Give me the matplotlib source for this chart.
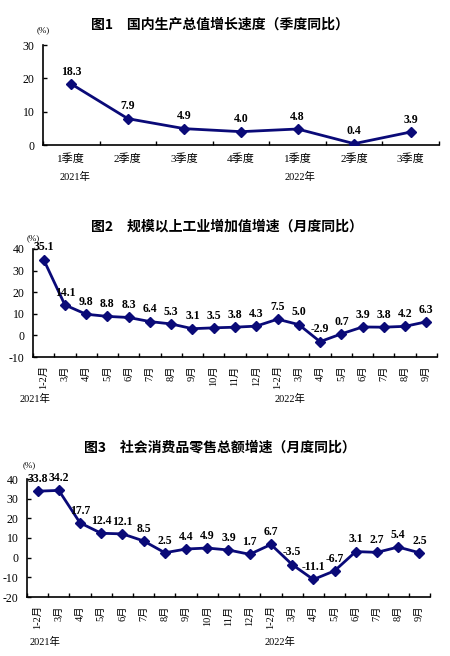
import matplotlib
matplotlib.use('Agg')
import matplotlib.pyplot as plt

# data
gdp_labels = ['1季度', '2季度', '3季度', '4季度', '1季度', '2季度', '3季度']
gdp_values = [18.3, 7.9, 4.9, 4.0, 4.8, 0.4, 3.9]

month_labels = ['1-2月', '3月', '4月', '5月', '6月', '7月', '8月', '9月', '10月',
                '11月', '12月', '1-2月', '3月', '4月', '5月', '6月', '7月', '8月', '9月']
ind_values = [35.1, 14.1, 9.8, 8.8, 8.3, 6.4, 5.3, 3.1, 3.5, 3.8, 4.3,
              7.5, 5.0, -2.9, 0.7, 3.9, 3.8, 4.2, 6.3]
retail_values = [33.8, 34.2, 17.7, 12.4, 12.1, 8.5, 2.5, 4.4, 4.9, 3.9, 1.7,
                 6.7, -3.5, -11.1, -6.7, 3.1, 2.7, 5.4, 2.5]

SERIF = ['Liberation Serif', 'Noto Sans CJK SC', 'DejaVu Sans']
SANS = ['Noto Sans CJK SC', 'DejaVu Sans']
NAVY = '#0a0a78'
W, H = 450, 656

fig = plt.figure(figsize=(4.5, 6.56), dpi=100)


def px_axes(left, right, top, bottom):
    return fig.add_axes([left / W, 1 - bottom / H, (right - left) / W, (bottom - top) / H])


def draw(ax, labels, values, ylim, yticks, rotate):
    n = len(values)
    x = list(range(n))
    ax.plot(x, values, color=NAVY, lw=2, marker='D', ms=5, zorder=3)
    for xi, v in zip(x, values):
        ax.annotate(f'{v:.1f}', (xi, v), xytext=(0, 4.5), textcoords='offset points',
                    ha='center', va='bottom', fontsize=8.5, fontweight='bold',
                    family=SERIF)
    ax.set_xlim(-0.5, n - 0.5)
    ax.set_ylim(*ylim)
    ax.set_yticks(yticks)
    ax.set_yticklabels([str(t) for t in yticks], family=SERIF, fontsize=8.5)
    ax.set_xticks(x)
    ax.set_xticks([i - 0.5 for i in range(n + 1)], minor=True)
    if rotate:
        ax.set_xticklabels(labels, rotation=90, family=SERIF, fontsize=7.5, va='top')
    else:
        ax.set_xticklabels(labels, family=SERIF, fontsize=8)
    ax.tick_params(axis='x', which='major', length=0, pad=6)
    ax.tick_params(axis='x', which='minor', direction='in', length=3, width=1)
    ax.tick_params(axis='y', direction='in', length=3, width=1, pad=6)
    for s in ['top', 'right']:
        ax.spines[s].set_visible(False)
    for s in ['left', 'bottom']:
        ax.spines[s].set_linewidth(1.2)


# figure 1
ax1 = px_axes(43, 439, 45, 145)
draw(ax1, gdp_labels, gdp_values, (0, 30), [0, 10, 20, 30], False)
fig.text(220 / W, 1 - 25 / H, '图1　国内生产总值增长速度（季度同比）', ha='center', va='center',
         fontsize=10, fontweight='bold', family=SANS)
fig.text(43 / W, 1 - 30 / H, '(%)', ha='center', va='center', fontsize=6.5, family=SERIF)
fig.text(75 / W, 1 - 177 / H, '2021年', ha='center', va='center', fontsize=7.5, family=SERIF)
fig.text(300 / W, 1 - 177 / H, '2022年', ha='center', va='center', fontsize=7.5, family=SERIF)

# figure 2
ax2 = px_axes(33, 437, 249, 357)
draw(ax2, month_labels, ind_values, (-10, 40), [-10, 0, 10, 20, 30, 40], True)
fig.text(227 / W, 1 - 227 / H, '图2　规模以上工业增加值增速（月度同比）', ha='center', va='center',
         fontsize=10, fontweight='bold', family=SANS)
fig.text(33 / W, 1 - 238 / H, '(%)', ha='center', va='center', fontsize=6.5, family=SERIF)
fig.text(35 / W, 1 - 399 / H, '2021年', ha='center', va='center', fontsize=7.5, family=SERIF)
fig.text(290 / W, 1 - 399 / H, '2022年', ha='center', va='center', fontsize=7.5, family=SERIF)

# figure 3
ax3 = px_axes(27, 430, 479, 597)
draw(ax3, month_labels, retail_values, (-20, 40), [-20, -10, 0, 10, 20, 30, 40], True)
fig.text(220 / W, 1 - 448 / H, '图3　社会消费品零售总额增速（月度同比）', ha='center', va='center',
         fontsize=10, fontweight='bold', family=SANS)
fig.text(29 / W, 1 - 465 / H, '(%)', ha='center', va='center', fontsize=6.5, family=SERIF)
fig.text(45 / W, 1 - 642 / H, '2021年', ha='center', va='center', fontsize=7.5, family=SERIF)
fig.text(280 / W, 1 - 642 / H, '2022年', ha='center', va='center', fontsize=7.5, family=SERIF)

fig.savefig('out.png', dpi=100, facecolor='white')
